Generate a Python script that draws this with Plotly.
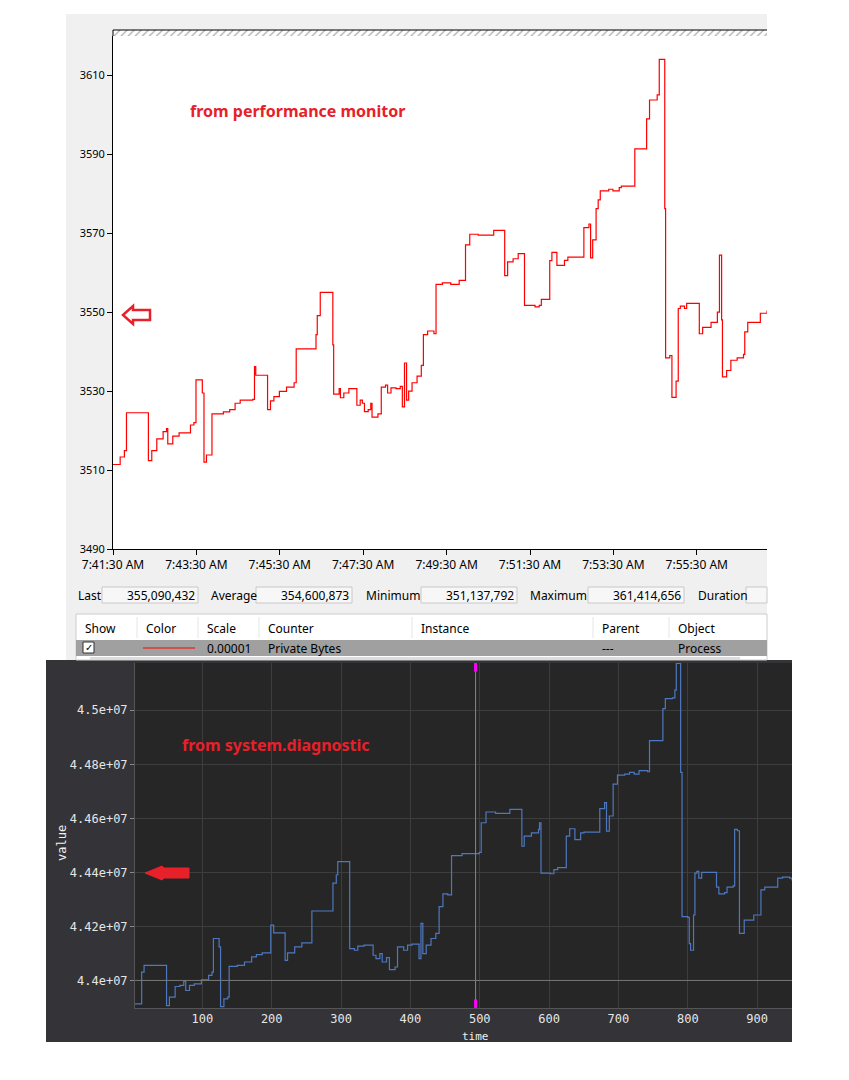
import pandas as pd
import plotly.graph_objects as go

# the page adds an 8px body margin, so the figure is drawn 8px smaller and offset
OFF = 8
W, H = 849 - OFF, 1080 - OFF

# performance monitor: seconds after 7:41:30 and value (scaled Private Bytes)
pm_sec = [0, 10.3, 16.4, 19.4, 50.9, 55.8, 63, 72.1, 77, 78.8, 86, 95.1, 107.3, 111.5, 116.4, 119.4,
          125.4, 128.5, 130.9, 134.5, 142.4, 158.8, 167.9, 175.7, 183, 201.2, 203.6, 205.4, 222.4,
          226.6, 231.5, 239.4, 249.7, 260.6, 263.6, 289.7, 292.1, 293.9, 298.2, 315.1, 316.3, 317.5,
          325.4, 327.2, 332.1, 339.4, 349.7, 350.9, 355.7, 358.8, 361.8, 367.2, 370.9, 372.7, 378.8,
          381.2, 386, 392.1, 395.1, 400, 407.2, 413.3, 416.3, 419.4, 422.4, 425.4, 430.3, 437.5,
          443.6, 446.6, 452.7, 461.8, 464.8, 473.9, 486, 498.1, 507.2, 513.3, 525.4, 547.8, 561.8,
          563.6, 567.8, 575.7, 583, 590.2, 592.1, 607.2, 613.3, 616.3, 626.6, 628.4, 631.5, 638.7,
          649.6, 654.5, 675.7, 677.5, 684.8, 687.2, 690.2, 695.1, 698.1, 701.1, 713.3, 719.3, 728.4,
          731.4, 748.4, 750.8, 764.8, 767.8, 772, 783, 786, 792.6, 793.9, 795.1, 801.1, 804.2, 810.2,
          813.3, 816.3, 822.3, 825.4, 841.7, 843.6, 848.4, 860.5, 869.6, 872.6, 875.7, 876.9, 882.9,
          889, 898.1, 907.2, 909, 913.3, 931.4, 941.1]
pm_val = [3511.4, 3513.3, 3514.9, 3524.5, 3512.4, 3514.9, 3517.9, 3519.7, 3520.5, 3516.6, 3518.6, 3519.4,
          3519.4, 3521.4, 3522, 3532.8, 3532.8, 3529.5, 3512, 3513.8, 3524.2, 3524.7, 3525.3, 3526.9,
          3527.7, 3527.9, 3536.2, 3534, 3525.3, 3527.5, 3528.6, 3529.9, 3531, 3532.1, 3540.7, 3540.7,
          3544.3, 3549.1, 3555, 3555, 3541.7, 3529.2, 3530.6, 3528.3, 3529.5, 3530.6, 3530.6, 3526.4,
          3527.7, 3526.9, 3524.8, 3525.3, 3526.9, 3523.4, 3523.4, 3524.2, 3531, 3531.5, 3529.5, 3530.8,
          3530.6, 3531.2, 3526, 3537.1, 3527.7, 3530, 3532.1, 3533.8, 3536.5, 3544.3, 3545.2, 3544.5,
          3557, 3557.4, 3557, 3558, 3567, 3569.7, 3569.5, 3570.7, 3570.7, 3559.2, 3562.7, 3563.5,
          3564.8, 3564.8, 3551.7, 3551.3, 3551.7, 3553.2, 3553.2, 3563, 3565.1, 3561.8, 3563.1,
          3563.9, 3563.9, 3571.4, 3572.3, 3563.7, 3568.3, 3576.2, 3578.4, 3580.7, 3581.1, 3580.7,
          3581.5, 3581.9, 3581.9, 3591.3, 3591.3, 3598.9, 3603.7, 3605, 3614, 3614, 3576.2, 3538.4,
          3539, 3528.4, 3532.5, 3550.9, 3551.5, 3550.9, 3552.2, 3552.2, 3544.5, 3546.1, 3547.4, 3550,
          3564.4, 3548, 3533.6, 3535.2, 3537.8, 3538.4, 3539.3, 3545, 3547.4, 3549.7, 3550.4]
pm_yticks = [3490, 3510, 3530, 3550, 3570, 3590, 3610]

# system.diagnostic: time and value
sd_time = [2.8, 12.4, 15.9, 46.9, 48.3, 52.4, 60.7, 67.6, 73.1, 75.9, 81.4, 88.3, 98.6, 109, 113.8,
           115.9, 121.4, 124.1, 126.2, 131, 136.6, 138.6, 150.3, 160.7, 171, 177.9, 186.2, 195.9,
           198.6, 202.8, 216.6, 219.3, 222.8, 233.1, 243.4, 255.9, 257.9, 284.8, 288.3, 293.1,
           295.2, 309, 312.4, 319.3, 324.1, 333.1, 343.4, 346.2, 350.3, 355.9, 359.3, 365.5, 369.7,
           377.9, 381.4, 390.3, 395.9, 402.1, 412.4, 415.2, 417.9, 422.8, 429.7, 436.6, 441.4, 446.9,
           453.8, 459.3, 474.5, 499.3, 502.1, 509, 522.8, 543.4, 558.6, 560.7, 564.1, 574.5, 584.8,
           586.2, 588.3, 602.1, 606.9, 612.4, 622.8, 624.8, 629.7, 637.2, 645.5, 650.3, 671, 673.1,
           680, 682.8, 686.9, 692.4, 698.6, 709, 715.9, 722.8, 729.7, 742.1, 744.8, 760.7, 764.1,
           767.6, 777.9, 781.4, 783.4, 788.3, 789.7, 791.7, 800, 802.1, 804.1, 808.3, 810.3, 813.1,
           815.9, 820, 837.9, 841.4, 844.8, 853.1, 856.6, 865.5, 867.6, 871.5, 874.5, 881.4, 895.2,
           905.5, 911, 927.6, 929.7, 936.6, 946.9, 950.3]
sd_val = [43913000, 44031000, 44055900, 44055900, 43906900, 43937900, 43977600, 43981400, 43997500,
          43962700, 43981400, 43987600, 44002500, 44018600, 44031000, 44155300, 44155300, 44124200,
          43903100, 43931700, 43937900, 44052200, 44055900, 44068300, 44086900, 44095600, 44101800,
          44101800, 44204900, 44176400, 44176400, 44074500, 44101800, 44124200, 44139100, 44139100,
          44257100, 44257100, 44360200, 44391200, 44439700, 44439700, 44118000, 44111800, 44126700,
          44130400, 44130400, 44093200, 44080700, 44099400, 44068300, 44084500, 44039700, 44049700,
          44124200, 44111800, 44130400, 44134100, 44080700, 44211100, 44099400, 44130400, 44155300,
          44173900, 44273200, 44320400, 44316700, 44462000, 44469500, 44474400, 44583700, 44623500,
          44618600, 44633400, 44633400, 44496800, 44534100, 44546500, 44558900, 44583700, 44397400,
          44395000, 44409900, 44417300, 44417300, 44534100, 44561400, 44521600, 44546500, 44549000,
          44549000, 44635900, 44658300, 44552700, 44608600, 44726600, 44760100, 44763800, 44770000,
          44763800, 44776300, 44772500, 44888000, 44888000, 45006000, 45043300, 45045800, 45074300,
          45173700, 45173700, 44770000, 44236000, 44233500, 44136600, 44111800, 44242200, 44397400,
          44403600, 44378800, 44399900, 44399900, 44345300, 44320400, 44325400, 44345300, 44350200,
          44558900, 44554000, 44173900, 44223600, 44242200, 44335300, 44345300, 44345300, 44378800,
          44382600, 44378800, 44370000]
sd_yticks = [44000000, 44200000, 44400000, 44600000, 44800000, 45000000]
sd_yticktext = ["4.4e+07", "4.42e+07", "4.44e+07", "4.46e+07", "4.48e+07", "4.5e+07"]
sd_xticks = [100, 200, 300, 400, 500, 600, 700, 800, 900]
sd_cursor = 494

stat_names = ["Last", "Average", "Minimum", "Maximum", "Duration"]
stat_values = ["355,090,432", "354,600,873", "351,137,792", "361,414,656", ""]
table_headers = ["Show", "Color", "Scale", "Counter", "Instance", "Parent", "Object"]
table_row = ["", "", "0.00001", "Private Bytes", "", "---", "Process"]


def px(x):
    return (x - OFF) / W


def py(y):
    return 1 - (y - OFF) / H


t0 = pd.Timestamp("2024-01-01 07:41:30")
pm_t = [t0 + pd.Timedelta(seconds=s) for s in pm_sec]

fig = go.Figure()
fig.add_trace(go.Scatter(x=pm_t, y=pm_val, mode="lines", line=dict(color="#ff0000", width=1.2, shape="hv"),
                         xaxis="x", yaxis="y", hoverinfo="skip"))
fig.add_trace(go.Scatter(x=sd_time, y=sd_val, mode="lines", line=dict(color="#4d78bf", width=1.2, shape="hv"),
                         xaxis="x2", yaxis="y2", hoverinfo="skip"))
# hatched band on top of the perfmon graph
fig.add_trace(go.Bar(x=[0.5], y=[1], width=1, marker=dict(color="white", line=dict(width=0),
                     pattern=dict(shape="/", fgcolor="#555", size=5, solidity=0.25)),
                     xaxis="x3", yaxis="y3", hoverinfo="skip"))

shapes = []
annos = []


def label(x, y, text, anchor="left", angle=0, **font):
    f = dict(size=12, color="black")
    f.update(font)
    annos.append(dict(xref="paper", yref="paper", x=px(x), y=py(y), text=text, showarrow=False,
                      xanchor=anchor, yanchor="middle", textangle=angle, font=f))


# backgrounds
shapes.append(dict(type="rect", xref="paper", yref="paper", x0=px(66), x1=px(767), y0=py(660), y1=py(14),
                   fillcolor="#f0f0f0", line=dict(width=0), layer="below"))
shapes.append(dict(type="rect", xref="paper", yref="paper", x0=px(113), x1=px(767), y0=py(549), y1=py(36),
                   fillcolor="white", line=dict(width=0), layer="below"))
shapes.append(dict(type="rect", xref="paper", yref="paper", x0=px(46), x1=px(792), y0=py(1042), y1=py(660),
                   fillcolor="#333338", line=dict(width=0), layer="below"))
shapes.append(dict(type="rect", xref="paper", yref="paper", x0=px(135), x1=px(792), y0=py(1008), y1=py(663),
                   fillcolor="#262626", line=dict(width=0), layer="below"))
shapes.append(dict(type="line", xref="paper", yref="paper", x0=px(113), x1=px(767), y0=py(30), y1=py(30),
                   line=dict(color="black", width=1)))
shapes.append(dict(type="line", xref="paper", yref="paper", x0=px(113), x1=px(113), y0=py(36), y1=py(30),
                   line=dict(color="black", width=1)))

# stats row
stat_x = [(76, 102, 198), (209, 256, 352), (364, 421, 517), (528, 588, 684), (696, 746, 767)]
for name, val, (lx, b0, b1) in zip(stat_names, stat_values, stat_x):
    label(lx, 595, name)
    shapes.append(dict(type="rect", xref="paper", yref="paper", x0=px(b0), x1=px(b1), y0=py(603), y1=py(587),
                       fillcolor="#f7f7f7", line=dict(color="#c8c8c8", width=1)))
    label(b1 - 1, 595, val, anchor="right")

# counter table
shapes.append(dict(type="rect", xref="paper", yref="paper", x0=px(76), x1=px(767), y0=py(660), y1=py(614),
                   fillcolor="white", line=dict(color="#cccccc", width=1)))
shapes.append(dict(type="rect", xref="paper", yref="paper", x0=px(76), x1=px(767), y0=py(656), y1=py(640),
                   fillcolor="#a0a0a0", line=dict(width=0)))
shapes.append(dict(type="rect", xref="paper", yref="paper", x0=px(90), x1=px(740), y0=py(660), y1=py(657),
                   fillcolor="#dcdcdc", line=dict(width=0)))
col_x = [76, 137, 198, 259, 412, 593, 669]
for i, (c, h, r) in enumerate(zip(col_x, table_headers, table_row)):
    if i > 0:
        shapes.append(dict(type="line", xref="paper", yref="paper", x0=px(c), x1=px(c), y0=py(638), y1=py(617),
                           line=dict(color="#e5e5e5", width=1)))
    label(c + 7, 628, h)
    if r:
        label(c + 7, 648, r)
shapes.append(dict(type="rect", xref="paper", yref="paper", x0=px(83), x1=px(94), y0=py(653), y1=py(642),
                   fillcolor="white", line=dict(color="#333", width=1)))
label(88.5, 647.5, "✓", anchor="center", size=10, family="DejaVu Sans")
shapes.append(dict(type="line", xref="paper", yref="paper", x0=px(143), x1=px(195), y0=py(648), y1=py(648),
                   line=dict(color="#ff0000", width=1)))

# red arrows
shapes.append(dict(type="path", xref="paper", yref="paper",
                   path=f"M {px(123)},{py(315)} L {px(133)},{py(306)} L {px(133)},{py(310)} L {px(150)},{py(310)} "
                        f"L {px(150)},{py(320)} L {px(133)},{py(320)} L {px(133)},{py(324)} Z",
                   fillcolor="white", line=dict(color="#e8202a", width=2.5)))
shapes.append(dict(type="path", xref="paper", yref="paper",
                   path=f"M {px(145)},{py(873)} L {px(162)},{py(866)} L {px(164)},{py(868)} L {px(189)},{py(868)} "
                        f"L {px(189)},{py(878)} L {px(164)},{py(878)} L {px(162)},{py(880)} Z",
                   fillcolor="#e8202a", line=dict(color="#e8202a", width=1)))
label(188, 111, "<b>from performance monitor</b>", size=16, color="#e8202a", family="Noto Sans")
label(180, 745, "<b>from system.diagnostic</b>", size=16, color="#e8202a", family="Noto Sans")
label(62, 843, "value", anchor="center", angle=-90, size=12, color="#f0f0f0", family="DejaVu Sans Mono")
label(475, 1036, "time", anchor="center", size=11, color="#f0f0f0", family="DejaVu Sans Mono")

# system.diagnostic cursor and baseline
shapes.append(dict(type="line", xref="x2", yref="y2 domain", x0=sd_cursor, x1=sd_cursor, y0=0, y1=1,
                   line=dict(color="#888", width=1)))
for a, b in [(0, 0.025), (0.975, 1)]:
    shapes.append(dict(type="line", xref="x2", yref="y2 domain", x0=sd_cursor, x1=sd_cursor, y0=a, y1=b,
                       line=dict(color="#ff00ff", width=3)))
shapes.append(dict(type="line", xref="x2 domain", yref="y2", x0=0, x1=1, y0=sd_yticks[0], y1=sd_yticks[0],
                   line=dict(color="#777", width=1)))

mono = dict(family="DejaVu Sans Mono", size=12, color="#e6e6e6")
fig.update_layout(
    width=W, height=H, margin=dict(l=0, r=0, t=0, b=0, autoexpand=False),
    paper_bgcolor="white", plot_bgcolor="rgba(0,0,0,0)", showlegend=False,
    font=dict(family="Noto Sans", size=12, color="black"),
    xaxis=dict(domain=[px(113), px(767)], anchor="y", type="date", automargin=False,
               range=[t0, t0 + pd.Timedelta(seconds=941)], dtick=120000, tick0=t0,
               tickformat="%-I:%M:%S %p", ticks="outside", ticklen=5, tickcolor="black",
               showline=True, linecolor="black", showgrid=False, zeroline=False,
               tickfont=dict(size=12, color="black")),
    yaxis=dict(domain=[py(549), py(36)], anchor="x", range=[3490, 3619.9], tickvals=pm_yticks,
               automargin=False, ticks="outside", ticklen=5, tickcolor="black", showline=True,
               linecolor="black", showgrid=False, zeroline=False, tickfont=dict(size=11, color="black")),
    xaxis2=dict(domain=[px(135), px(792)], anchor="y2", range=[2.8, 950.3], tickvals=sd_xticks,
                automargin=False, showgrid=True, gridcolor="#3d3d3d", zeroline=False, showline=True,
                linecolor="#555", ticks="", tickfont=mono),
    yaxis2=dict(domain=[py(1008), py(663)], anchor="x2", range=[43898000, 45175000], tickvals=sd_yticks,
                automargin=False, ticktext=sd_yticktext, showgrid=True, gridcolor="#3d3d3d", zeroline=False,
                showline=True, linecolor="#555", ticks="outside", ticklen=4, tickcolor="#888", tickfont=mono),
    xaxis3=dict(domain=[px(113), px(767)], anchor="y3", range=[0, 1], visible=False),
    yaxis3=dict(domain=[py(36), py(30)], anchor="x3", range=[0, 1], visible=False),
    shapes=shapes, annotations=annos, bargap=0,
)

fig.write_html("out.html")
